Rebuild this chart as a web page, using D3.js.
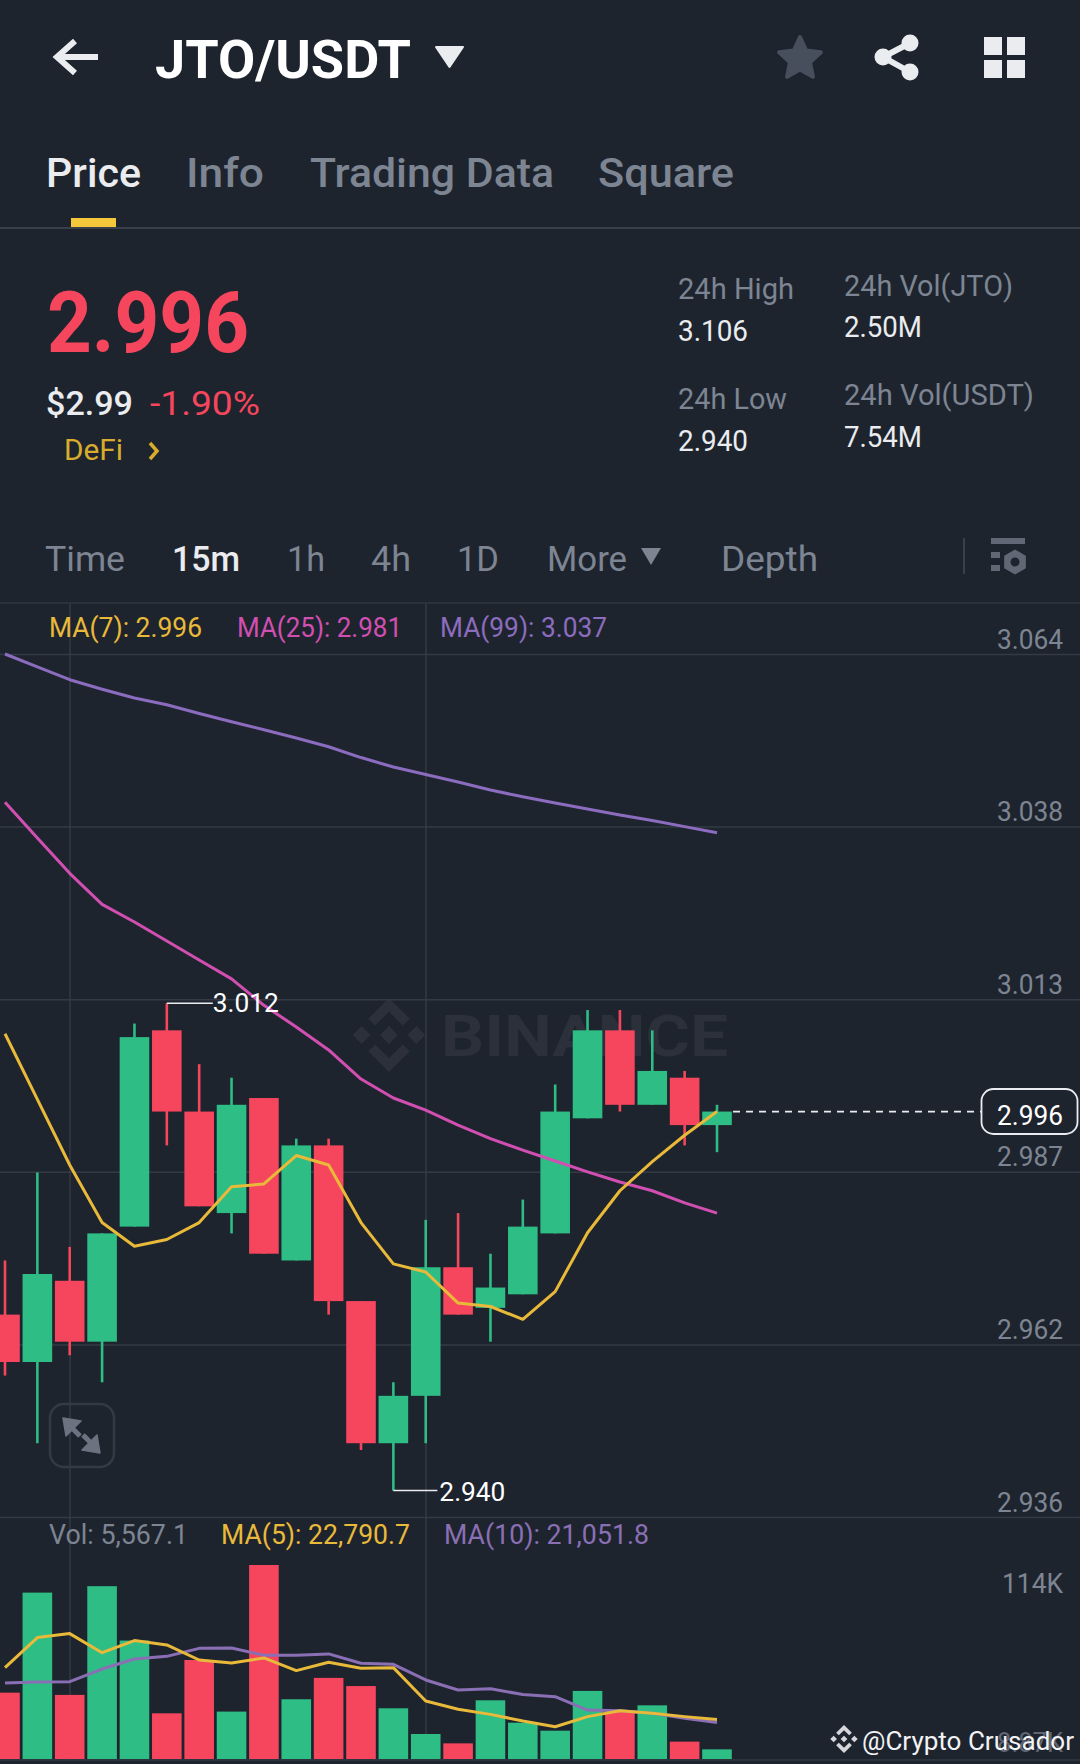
<!DOCTYPE html>
<html>
<head>
<meta charset="utf-8">
<script src="https://cdn.jsdelivr.net/npm/d3@7/dist/d3.min.js"></script>
<style>
html,body{margin:0;padding:0;background:#1e242e;}
svg{display:block;}
text{font-family:Roboto,"Noto Sans",sans-serif;}
</style>
</head>
<body>
<svg id="chart" width="1080" height="1764"></svg>
<script>
// ---- data ----
const opens  = [2.966,2.959,2.971,2.962,2.979,3.008,2.996,2.981,2.998,2.974,2.991,2.968,2.947,2.954,2.973,2.967,2.969,2.978,2.995,3.008,2.997,3.001,2.994];
const closes = [2.959,2.972,2.962,2.978,3.007,2.996,2.982,2.997,2.975,2.991,2.968,2.947,2.954,2.973,2.966,2.970,2.979,2.996,3.008,2.997,3.002,2.994,2.996];
const highs  = [2.974,2.987,2.976,2.978,3.009,3.012,3.003,3.001,2.998,2.992,2.992,2.968,2.956,2.980,2.981,2.975,2.983,3.000,3.011,3.011,3.008,3.002,2.997];
const lows   = [2.957,2.947,2.960,2.956,2.979,2.991,2.982,2.978,2.975,2.974,2.966,2.946,2.940,2.947,2.966,2.962,2.969,2.978,2.995,2.996,2.997,2.991,2.990];
const ma7    = [3.0075,2.9978,2.9881,2.9796,2.9761,2.9771,2.9796,2.9849,2.9853,2.9895,2.9881,2.9796,2.9735,2.9723,2.9677,2.9672,2.9653,2.9694,2.9781,2.9843,2.9886,2.9925,2.996];
const ma25   = [3.0417,3.0364,3.0312,3.0266,3.0240,3.0212,3.0184,3.0156,3.0117,3.0085,3.0051,3.0008,2.9980,2.9962,2.9940,2.9920,2.9903,2.9887,2.9871,2.9856,2.9843,2.9825,2.9810];
const ma99   = [3.0636,3.0617,3.0598,3.0584,3.0571,3.0561,3.0548,3.0536,3.0524,3.0512,3.0499,3.0483,3.0469,3.0458,3.0447,3.0435,3.0425,3.0416,3.0407,3.0398,3.0390,3.0381,3.0372];
const volumes= [38200,95800,36900,99500,68200,26300,57000,27300,111700,34400,46700,42000,29200,14400,9000,33800,20900,16300,39200,27300,30900,10000,5567.1];
const volMa5 = [52600,69900,72200,61200,68200,65700,57000,55300,58200,50900,55700,52200,52600,33400,28600,25700,21900,18600,24400,27800,26300,24400,22790.7];
const volMa10= [43800,44400,44500,51800,57600,59100,63700,63900,59700,59700,60500,55100,54500,45500,39700,40500,37100,35900,28200,27800,26300,23400,21051.8];
const priceTicks = [3.0636,3.0381,3.0126,2.9871,2.9616,2.9361];
const lastPrice = 2.996, chartHigh = 3.012, chartLow = 2.940;
const tabs = ["Price","Info","Trading Data","Square"];
const intervals = ["Time","15m","1h","4h","1D","More","Depth"];

// ---- palette ----
const BG="#1e242e", GRID="#343a45", GREEN="#2ebd85", RED="#f6465d", WHITE="#eaecef", MUTED="#7d8592",
      C7="#e9b93a", C25="#d24fb2", C99="#8c6cbf", VOLMA10="#8a6fb5";

const svg = d3.select("#chart");
svg.append("rect").attr("width",1080).attr("height",1764).attr("fill",BG);

function T(str,x,y,size,fill,opt={}){
  const t = svg.append("text").text(str).attr("x",x).attr("y",y)
    .attr("font-size",size).attr("fill",fill)
    .attr("font-weight",opt.w||400).attr("text-anchor",opt.a||"start");
  if(opt.len){t.attr("textLength",opt.len).attr("lengthAdjust","spacingAndGlyphs");}
  return t;
}
function logo(cx,cy,r,fill){
  const g = svg.append("g").attr("transform",`translate(${cx},${cy}) scale(${r/10})`).attr("fill",fill);
  const d = (x,y,s)=>`M${x-s},${y}L${x},${y-s}L${x+s},${y}L${x},${y+s}Z`;
  g.append("path").attr("d",d(0,0,2.4)+d(-7.4,0,2.4)+d(7.4,0,2.4));
  g.append("path").attr("d","M0,-10L5.6,-4.4L3.7,-2.6L0,-6.3L-3.7,-2.6L-5.6,-4.4Z");
  g.append("path").attr("d","M0,10L5.6,4.4L3.7,2.6L0,6.3L-3.7,2.6L-5.6,4.4Z");
}

// ---- header ----
svg.append("path").attr("d","M98,57H58M75,41L57,57L75,73").attr("fill","none").attr("stroke",WHITE).attr("stroke-width",6);
T("JTO/USDT",155,78,54,"#fff",{w:700,len:256});
svg.append("path").attr("d","M436,47H463L449.5,67Z").attr("fill",WHITE).attr("stroke",WHITE).attr("stroke-width",2).attr("stroke-linejoin","round");
// star
const star = d3.range(10).map(i=>{const r=i%2?10.5:22,a=-Math.PI/2+i*Math.PI/5;return [800+r*Math.cos(a),59+r*Math.sin(a)];});
svg.append("path").attr("d",d3.line()(star)+"Z").attr("fill","#474f5c").attr("stroke","#474f5c").attr("stroke-width",4).attr("stroke-linejoin","round");
// share
svg.append("path").attr("d","M910,43L883,57L910,72").attr("fill","none").attr("stroke",WHITE).attr("stroke-width",6);
[[883,57],[910,43],[910,72]].forEach(p=>svg.append("circle").attr("cx",p[0]).attr("cy",p[1]).attr("r",8.5).attr("fill",WHITE));
// grid icon
[[984,37],[1007,37],[984,60],[1007,60]].forEach(p=>svg.append("rect").attr("x",p[0]).attr("y",p[1]).attr("width",18).attr("height",18).attr("fill",WHITE));

// tabs
const tabX=[46,186,310,598], tabLen=[95,78,244,136];
tabs.forEach((s,i)=>T(s,tabX[i],187,40,i?MUTED:WHITE,{w:500,len:tabLen[i]}));
svg.append("rect").attr("x",0).attr("y",227).attr("width",1080).attr("height",2).attr("fill","#3a404a");
svg.append("rect").attr("x",71).attr("y",218).attr("width",45).attr("height",9).attr("fill","#f5c73b");

// price block
T(lastPrice.toFixed(3),47,352,86,RED,{w:700,len:202});
T("$2.99",46,415,33,WHITE,{w:500,len:87});
T("-1.90%",150,415,34,RED,{w:400,len:110});
T("DeFi",64,460,29,"#d9ac2e",{len:59});
svg.append("path").attr("d","M150,443L157,451L150,459").attr("fill","none").attr("stroke","#d9ac2e").attr("stroke-width",3.5);
T("24h High",678,299,29,MUTED,{len:116});
T("3.106",678,341,29,WHITE,{len:70});
T("24h Low",678,409,29,MUTED,{len:109});
T("2.940",678,451,29,WHITE,{len:70});
T("24h Vol(JTO)",844,296,29,MUTED,{len:169});
T("2.50M",844,337,29,WHITE,{len:78});
T("24h Vol(USDT)",844,405,29,MUTED,{len:190});
T("7.54M",844,447,29,WHITE,{len:78});

// interval row
const ivX=[45,172,287,371,457,547,721], ivLen=[80,68,38,40,42,80,97];
intervals.forEach((s,i)=>T(s,ivX[i],571,35,i===1?WHITE:MUTED,{w:i===1?500:400,len:ivLen[i]}));
svg.append("path").attr("d","M641,548H661L651,565Z").attr("fill",MUTED);
svg.append("rect").attr("x",963).attr("y",538).attr("width",2).attr("height",36).attr("fill","#3a404a");
svg.append("path").attr("d","M991,538H1025V544H991ZM991,552H1000V558H991ZM991,565H1000V571H991Z").attr("fill","#606875");
const hex=d3.range(6).map(i=>{const a=Math.PI/6+i*Math.PI/3;return [1015+12.5*Math.cos(a),562+12.5*Math.sin(a)];});
svg.append("path").attr("d",d3.line()(hex)+"ZM1019.5,562a4.5,4.5 0 1,0 -9,0a4.5,4.5 0 1,0 9,0Z").attr("fill","#606875").attr("fill-rule","evenodd");
svg.append("rect").attr("x",0).attr("y",602).attr("width",1080).attr("height",2).attr("fill","#2b313b");

// ---- scales ----
const x = d3.scaleLinear().domain([0,22]).range([5,717]);
const y = d3.scaleLinear().domain([2.9361,3.0636]).range([1517,654]);
const yV = d3.scaleLinear().domain([0,114000]).range([1759,1561]);
const bw = 29.6;

// vertical grid
[70,426].forEach(px=>svg.append("line").attr("x1",px).attr("x2",px).attr("y1",604).attr("y2",1760).attr("stroke",GRID).attr("stroke-width",1.5));

// watermark
logo(389,1035,37,"#2b303b");
T("BINANCE",441,1056,58,"#2b303b",{w:700,len:287});

// price axis
const axis = d3.axisRight(y).tickValues(priceTicks).tickSize(1080).tickFormat(d3.format(".3f"));
const ax = svg.append("g").attr("class","price-axis").call(axis);
ax.select(".domain").remove();
ax.selectAll(".tick line").attr("stroke",GRID).attr("stroke-width",1.5);
ax.selectAll(".tick text").attr("x",1063).attr("dy",-6).attr("text-anchor","end")
  .attr("font-size",27).attr("fill",MUTED).attr("font-family","Roboto").attr("textLength",66).attr("lengthAdjust","spacingAndGlyphs");
svg.append("line").attr("x1",0).attr("x2",1080).attr("y1",1760).attr("y2",1760).attr("stroke",GRID).attr("stroke-width",1.5);

// MA legend
T("MA(7): 2.996",49,637,27,C7,{len:153});
T("MA(25): 2.981",237,637,27,C25,{len:165});
T("MA(99): 3.037",440,637,27,C99,{len:167});

// candles
const idx = d3.range(opens.length);
const candles = svg.append("g");
candles.selectAll("line").data(idx).join("line")
  .attr("x1",i=>x(i)).attr("x2",i=>x(i)).attr("y1",i=>y(highs[i])).attr("y2",i=>y(lows[i]))
  .attr("stroke",i=>closes[i]>=opens[i]?GREEN:RED).attr("stroke-width",2.6);
candles.selectAll("rect").data(idx).join("rect")
  .attr("x",i=>x(i)-bw/2).attr("width",bw)
  .attr("y",i=>y(Math.max(opens[i],closes[i])))
  .attr("height",i=>Math.abs(y(opens[i])-y(closes[i])))
  .attr("fill",i=>closes[i]>=opens[i]?GREEN:RED);

// MA lines
const line = (sc)=>d3.line().x((d,i)=>x(i)).y(d=>sc(d));
[[ma99,C99],[ma25,C25],[ma7,C7]].forEach(([a,c])=>svg.append("path").attr("d",line(y)(a)).attr("fill","none").attr("stroke",c).attr("stroke-width",3).attr("stroke-linejoin","round"));

// high / low markers
const iHi = highs.indexOf(chartHigh), iLo = lows.indexOf(chartLow);
svg.append("line").attr("x1",x(iHi)).attr("x2",x(iHi)+46).attr("y1",y(chartHigh)).attr("y2",y(chartHigh)).attr("stroke",WHITE).attr("stroke-width",1.5);
T(chartHigh.toFixed(3),x(iHi)+46,y(chartHigh)+9,26,"#fff",{len:66});
svg.append("line").attr("x1",x(iLo)).attr("x2",x(iLo)+44).attr("y1",y(chartLow)).attr("y2",y(chartLow)).attr("stroke",WHITE).attr("stroke-width",1.5);
T(chartLow.toFixed(3),x(iLo)+46,y(chartLow)+10,26,"#fff",{len:66});

// current price
svg.append("line").attr("x1",x(22)+16).attr("x2",981).attr("y1",y(lastPrice)).attr("y2",y(lastPrice)).attr("stroke",WHITE).attr("stroke-width",1.8).attr("stroke-dasharray","7 6");
svg.append("rect").attr("x",981.5).attr("y",1089).attr("width",96).attr("height",45).attr("rx",12).attr("fill",BG).attr("stroke",WHITE).attr("stroke-width",1.8);
T(lastPrice.toFixed(3),1063,1125,27,"#fff",{a:"end",len:66});

// expand button
svg.append("rect").attr("x",50).attr("y",1404).attr("width",64).attr("height",63).attr("rx",14).attr("fill","none").attr("stroke","#343a45").attr("stroke-width",2.5);
svg.append("path").attr("d","M63,1418L81,1421L66,1436ZM100,1453L82,1450L97,1435Z").attr("fill","#6c7380").attr("stroke","#6c7380").attr("stroke-width",1.5).attr("stroke-linejoin","round");
svg.append("path").attr("d","M72,1428L80,1436M91,1443L83,1435").attr("stroke","#6c7380").attr("stroke-width",5);

// volume pane
T("Vol: 5,567.1",49,1544,27,MUTED,{len:139});
T("MA(5): 22,790.7",221,1544,27,C7,{len:189});
T("MA(10): 21,051.8",444,1544,27,VOLMA10,{len:205});
T("114K",1063,1593,27,MUTED,{a:"end",len:61});
svg.append("g").selectAll("rect").data(idx).join("rect")
  .attr("x",i=>x(i)-bw/2).attr("width",bw)
  .attr("y",i=>yV(volumes[i])).attr("height",i=>1759-yV(volumes[i]))
  .attr("fill",i=>closes[i]>=opens[i]?GREEN:RED);
[[volMa10,VOLMA10],[volMa5,C7]].forEach(([a,c])=>svg.append("path").attr("d",line(yV)(a)).attr("fill","none").attr("stroke",c).attr("stroke-width",3).attr("stroke-linejoin","round"));

// footer watermark
T("8.87K",1063,1752,27,"#5f6673",{a:"end",len:66});
logo(844,1739,14,"#d5d7dc");
T("@Crypto Crusador",862,1750,26,"#f2f3f5",{len:212}).attr("font-family","'Open Sans'");
</script>
</body>
</html>
